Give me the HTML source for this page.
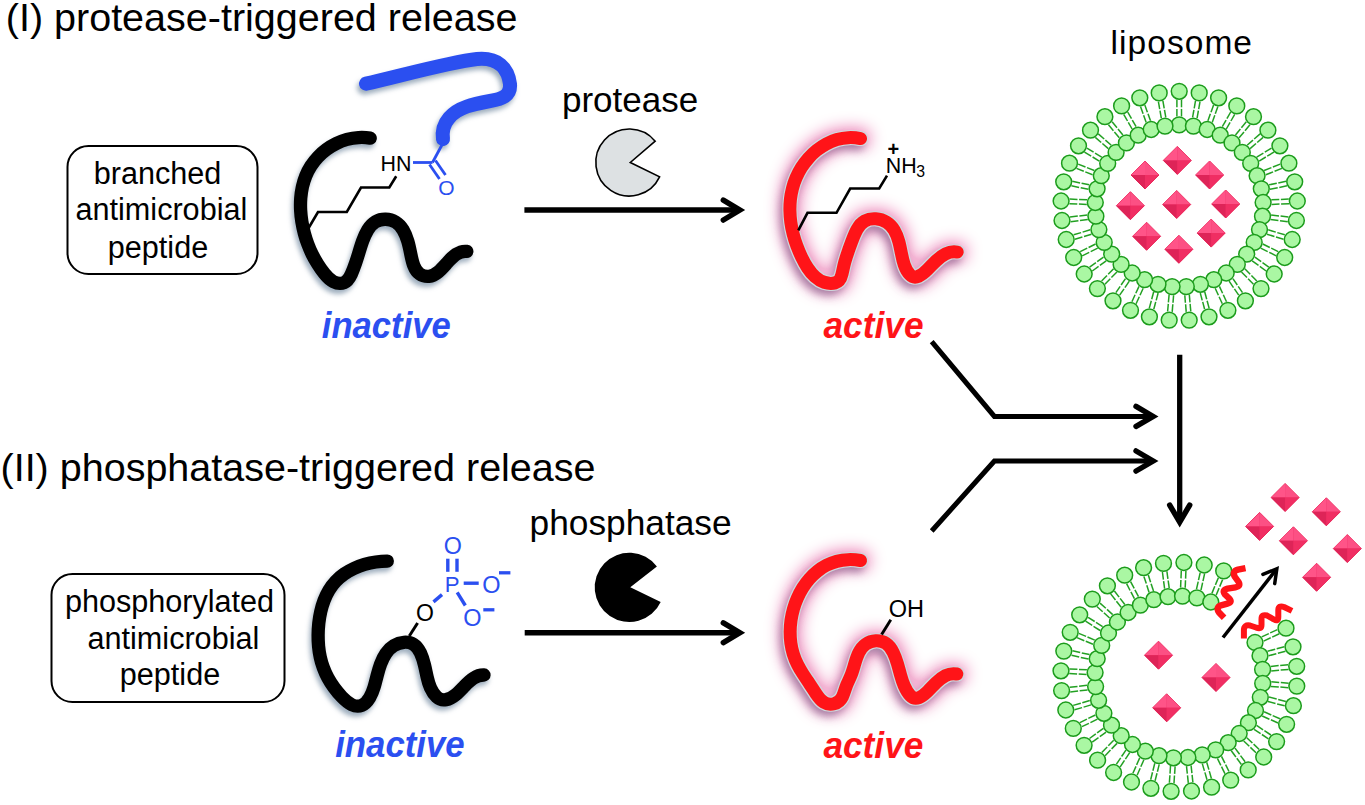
<!DOCTYPE html>
<html><head><meta charset="utf-8"><style>
html,body{margin:0;padding:0;background:#fff;overflow:hidden}
svg{display:block}
text{font-family:"Liberation Sans", sans-serif}
</style></head><body>
<svg width="1365" height="805" viewBox="0 0 1365 805">
<defs>
<filter id="sh" x="-20%" y="-20%" width="140%" height="140%" color-interpolation-filters="sRGB">
<feGaussianBlur in="SourceAlpha" stdDeviation="2.6" result="b"/>
<feOffset dx="-2.5" dy="3.5" result="o"/>
<feFlood flood-color="#8598ad" flood-opacity="0.8"/>
<feComposite in2="o" operator="in" result="s"/>
<feMerge><feMergeNode in="s"/><feMergeNode in="SourceGraphic"/></feMerge>
</filter>
<filter id="glow" x="-40%" y="-40%" width="180%" height="180%" color-interpolation-filters="sRGB">
<feMorphology in="SourceAlpha" operator="dilate" radius="3" result="d"/>
<feGaussianBlur in="d" stdDeviation="8" result="b"/>
<feComponentTransfer in="b" result="b"><feFuncA type="linear" slope="1.7"/></feComponentTransfer>
<feFlood flood-color="#f4b4d4" flood-opacity="1"/>
<feComposite in2="b" operator="in" result="g"/>
<feGaussianBlur in="SourceAlpha" stdDeviation="4" result="b2"/>
<feOffset in="b2" dx="-3" dy="4.5" result="o2"/>
<feFlood flood-color="#8e7096" flood-opacity="0.8"/>
<feComposite in2="o2" operator="in" result="s2"/>
<feMorphology in="SourceAlpha" operator="dilate" radius="0.7" result="e"/>
<feFlood flood-color="#d0d6dc" flood-opacity="1"/>
<feComposite in2="e" operator="in" result="edge"/>
<feMerge><feMergeNode in="g"/><feMergeNode in="s2"/><feMergeNode in="edge"/><feMergeNode in="SourceGraphic"/></feMerge>
</filter>
</defs>
<rect width="1365" height="805" fill="#fff"/>

<text x="5.8" y="31.2" font-size="39.5" fill="#000">(I) protease-triggered release</text>
<text x="0.5" y="481" font-size="39.5" fill="#000">(II) phosphatase-triggered release</text>
<rect x="67.5" y="146" width="190" height="128" rx="21" fill="none" stroke="#000" stroke-width="2"/>
<text font-size="30.6" text-anchor="middle" fill="#000"><tspan x="157.5" y="183.5">branched</tspan><tspan x="161.4" y="220.3">antimicrobial</tspan><tspan x="158" y="257.5">peptide</tspan></text>
<rect x="51.5" y="574" width="233" height="128" rx="21" fill="none" stroke="#000" stroke-width="2"/>
<text font-size="30.6" text-anchor="middle" fill="#000"><tspan x="169.5" y="612.2">phosphorylated</tspan><tspan x="173.4" y="649">antimicrobial</tspan><tspan x="170" y="684.8">peptide</tspan></text>
<g filter="url(#sh)">
<path d="M 370.20 138.10 C 366.25 137.48, 362.32 137.31, 358.45 137.55 C 354.57 137.78, 350.76 138.42, 347.06 139.42 C 343.36 140.42, 339.77 141.79, 336.34 143.46 C 332.90 145.14, 329.63 147.14, 326.56 149.41 C 323.48 151.67, 320.62 154.22, 318.01 156.98 C 315.39 159.75, 313.04 162.75, 310.98 165.94 C 308.92 169.12, 307.17 172.49, 305.75 176.00 C 304.32 179.50, 303.21 183.15, 302.39 186.89 C 301.56 190.63, 301.02 194.46, 300.74 198.34 C 300.45 202.22, 300.43 206.14, 300.62 210.06 C 300.82 213.98, 301.25 217.90, 301.87 221.77 C 302.50 225.64, 303.32 229.47, 304.31 233.19 C 305.30 236.92, 306.46 240.54, 307.77 244.03 C 309.07 247.52, 310.52 250.89, 312.16 254.19 C 313.80 257.49, 315.62 260.73, 317.66 263.98 C 319.70 267.22, 321.94 270.54, 324.47 273.73 C 327.01 276.93, 329.87 279.85, 333.29 281.59 C 336.72 283.34, 340.86 283.88, 344.13 282.53 C 347.39 281.18, 349.59 277.77, 351.31 274.08 C 353.03 270.39, 354.35 266.73, 355.55 263.22 C 356.75 259.71, 357.80 256.25, 358.92 252.62 C 360.03 248.99, 361.21 245.08, 362.64 241.10 C 364.07 237.13, 365.75 233.17, 367.84 229.76 C 369.93 226.35, 372.45 223.51, 375.52 221.73 C 378.58 219.95, 382.11 219.14, 385.63 219.24 C 389.15 219.34, 392.66 220.35, 395.68 222.18 C 398.69 224.02, 401.14 226.72, 403.10 230.00 C 405.06 233.27, 406.57 237.11, 407.78 241.19 C 408.99 245.27, 409.87 249.61, 410.73 253.83 C 411.58 258.04, 412.45 262.12, 413.78 265.62 C 415.11 269.11, 416.96 271.99, 419.61 273.87 C 422.27 275.74, 425.57 276.63, 428.88 276.33 C 432.19 276.02, 435.38 274.38, 438.36 271.86 C 441.34 269.35, 444.19 266.07, 447.10 262.87 C 450.00 259.68, 452.97 256.56, 456.19 254.36 C 459.41 252.17, 462.88 250.90, 466.80 251.40" fill="none" stroke="#000" stroke-width="13.3" stroke-linecap="round" stroke-linejoin="round"/>
<path d="M 366 83.7 C 400 76, 450 62, 477 59 C 498 57, 508 68, 510 84 C 511 96, 502 99, 490 101 C 474 104, 458 107, 449 118 C 443 125, 442 132, 443 139" fill="none" stroke="#2b4ff0" stroke-width="14" stroke-linecap="round"/>
</g>
<polyline points="308.3,228.5 318,212 346.8,212 361,187.5 389.3,187.5 396.2,176.2" fill="none" stroke="#000" stroke-width="2.6"/>
<text x="380.5" y="170.6" font-size="21.4" fill="#000">HN</text>
<g stroke="#2b4ff0" stroke-width="2.8" fill="none"><line x1="413" y1="162.5" x2="432.5" y2="162.5"/><line x1="432.5" y1="162.5" x2="443" y2="143"/><line x1="429.5" y1="164.5" x2="439.5" y2="179"/><line x1="435.5" y1="160.5" x2="445.5" y2="175"/></g>
<text x="438.3" y="195.3" font-size="21" fill="#2b4ff0">O</text>
<text x="321.8" y="338.4" font-size="36" font-weight="bold" font-style="italic" fill="#2b4ff0" textLength="129" lengthAdjust="spacingAndGlyphs">inactive</text>
<text x="562" y="111.8" font-size="35" fill="#000">protease</text>
<path d="M 630.3 162.5 L 659.6 176.8 A 33.5 33.5 0 1 1 655.2 141.2 Z" fill="#dde1e3" stroke="#000" stroke-width="1.6" stroke-linejoin="miter"/>
<line x1="524.4" y1="210.1" x2="737.85" y2="210.10" stroke="#000" stroke-width="5.5"/><polyline points="723.35,220.00 739.85,210.10 723.35,200.20" fill="none" stroke="#000" stroke-width="5.5" stroke-linecap="round" stroke-linejoin="miter" stroke-miterlimit="10"/>
<g filter="url(#glow)">
<path d="M 860.50 138.61 C 856.38 137.78, 852.33 137.49, 848.39 137.68 C 844.45 137.86, 840.62 138.52, 836.93 139.58 C 833.24 140.65, 829.69 142.12, 826.31 143.93 C 822.93 145.74, 819.73 147.89, 816.73 150.31 C 813.73 152.73, 810.93 155.43, 808.37 158.32 C 805.81 161.22, 803.49 164.32, 801.44 167.56 C 799.39 170.80, 797.62 174.17, 796.12 177.63 C 794.63 181.09, 793.42 184.64, 792.48 188.27 C 791.53 191.89, 790.85 195.59, 790.43 199.34 C 790.01 203.10, 789.84 206.90, 789.91 210.74 C 789.98 214.57, 790.29 218.44, 790.83 222.32 C 791.37 226.20, 792.15 230.09, 793.13 233.97 C 794.12 237.86, 795.32 241.73, 796.73 245.57 C 798.13 249.42, 799.74 253.24, 801.54 257.00 C 803.35 260.76, 805.34 264.45, 807.58 267.83 C 809.81 271.20, 812.29 274.26, 815.05 276.75 C 817.80 279.24, 820.84 281.17, 824.20 282.29 C 827.56 283.41, 831.51 283.86, 835.07 282.87 C 838.63 281.89, 840.90 278.70, 841.91 274.35 C 842.92 270.01, 843.76 265.81, 844.80 262.07 C 845.85 258.33, 846.99 254.86, 848.21 251.37 C 849.44 247.88, 850.75 244.34, 852.16 240.52 C 853.57 236.70, 855.12 232.71, 857.12 229.24 C 859.11 225.76, 861.57 222.81, 864.77 221.03 C 867.97 219.25, 871.82 218.57, 875.68 218.83 C 879.55 219.09, 883.41 220.29, 886.62 222.27 C 889.83 224.24, 892.31 227.01, 894.26 230.26 C 896.20 233.51, 897.62 237.25, 898.72 241.18 C 899.83 245.11, 900.59 249.22, 901.39 253.24 C 902.18 257.27, 903.02 261.23, 904.29 264.86 C 905.56 268.49, 907.33 271.95, 909.81 274.48 C 912.29 277.02, 915.40 277.72, 918.56 276.28 C 921.72 274.84, 924.77 272.16, 927.65 269.35 C 930.53 266.55, 933.31 263.47, 936.23 260.68 C 939.15 257.90, 942.20 255.41, 945.62 253.79 C 949.04 252.17, 952.82 251.42, 957.20 252.10" fill="none" stroke="#ff1418" stroke-width="13" stroke-linecap="round" stroke-linejoin="round"/>
</g>
<polyline points="798.3,230.3 807.5,212.8 836.5,212.8 850.2,188.5 879.2,188.5 887,175.6" fill="none" stroke="#000" stroke-width="2.6"/>
<text x="885.8" y="172.9" font-size="21.4" fill="#000">NH</text><text x="916.3" y="177.4" font-size="15.8" fill="#000">3</text>
<text x="887.6" y="156.4" font-size="20" font-weight="bold" fill="#000">+</text>
<text x="823.5" y="338.4" font-size="36" font-weight="bold" font-style="italic" fill="#ff1418" textLength="100" lengthAdjust="spacingAndGlyphs">active</text>
<g filter="url(#sh)">
<path d="M 387.30 561.10 C 383.48 561.15, 379.63 561.45, 375.82 562.00 C 372.01 562.55, 368.24 563.36, 364.56 564.43 C 360.88 565.50, 357.31 566.83, 353.88 568.43 C 350.46 570.02, 347.20 571.89, 344.16 574.02 C 341.12 576.15, 338.30 578.56, 335.76 581.24 C 333.23 583.93, 330.98 586.90, 329.05 590.12 C 327.11 593.34, 325.46 596.80, 324.09 600.41 C 322.71 604.02, 321.60 607.79, 320.73 611.64 C 319.85 615.49, 319.22 619.42, 318.79 623.35 C 318.37 627.27, 318.15 631.20, 318.12 635.05 C 318.08 638.90, 318.23 642.66, 318.58 646.35 C 318.93 650.05, 319.48 653.67, 320.26 657.22 C 321.04 660.77, 322.05 664.25, 323.31 667.67 C 324.56 671.09, 326.07 674.46, 327.85 677.76 C 329.63 681.07, 331.68 684.33, 334.03 687.53 C 336.38 690.74, 339.03 693.93, 341.98 697.01 C 344.94 700.08, 348.17 702.92, 351.53 704.60 C 354.89 706.29, 358.48 706.72, 361.77 705.36 C 365.07 704.01, 367.73 700.86, 369.70 697.59 C 371.66 694.33, 372.99 690.84, 374.09 687.19 C 375.20 683.53, 376.08 679.68, 377.10 675.73 C 378.11 671.78, 379.23 667.76, 380.63 663.95 C 382.03 660.13, 383.72 656.53, 385.87 653.40 C 388.02 650.27, 390.71 647.62, 393.84 645.70 C 396.97 643.78, 400.47 642.57, 403.89 642.29 C 407.32 642.01, 410.69 642.64, 413.55 644.41 C 416.42 646.18, 418.70 649.23, 420.46 652.96 C 422.22 656.70, 423.49 661.04, 424.51 665.18 C 425.52 669.33, 426.29 673.35, 427.18 677.17 C 428.06 680.99, 429.06 684.61, 430.52 687.94 C 431.99 691.27, 433.98 694.49, 436.63 696.88 C 439.29 699.27, 442.62 700.31, 446.07 699.64 C 449.52 698.97, 452.81 697.01, 455.82 694.52 C 458.83 692.03, 461.65 688.99, 464.51 686.06 C 467.37 683.13, 470.27 680.30, 473.45 678.24 C 476.62 676.17, 480.06 674.88, 484.00 675.00" fill="none" stroke="#000" stroke-width="13.3" stroke-linecap="round" stroke-linejoin="round"/>
</g>
<line x1="417.6" y1="623" x2="409.3" y2="636" stroke="#000" stroke-width="3"/>
<text x="415.9" y="620.5" font-size="23" fill="#000">O</text>
<g stroke="#2b4ff0" stroke-width="3.4" fill="none"><line x1="433.5" y1="601.9" x2="442" y2="594.6"/><line x1="447.8" y1="558.7" x2="447.8" y2="571.8"/><line x1="457" y1="558.7" x2="457" y2="571.8"/><line x1="463.7" y1="583.2" x2="478.7" y2="583.2"/><line x1="457.2" y1="592.3" x2="465.3" y2="605.5"/></g>
<g fill="#2b4ff0"><text x="444.7" y="592" font-size="22.2">P</text><text x="443.7" y="553.9" font-size="23.3">O</text><text x="482.2" y="593.1" font-size="23.5">O</text><text x="463.3" y="626.4" font-size="23.5">O</text></g>
<g stroke="#2b4ff0" stroke-width="3.3"><line x1="499" y1="572.8" x2="510.4" y2="572.8"/><line x1="483.3" y1="609.8" x2="494.4" y2="609.8"/></g>
<text x="335.2" y="757.4" font-size="36" font-weight="bold" font-style="italic" fill="#2b4ff0" textLength="129.5" lengthAdjust="spacingAndGlyphs">inactive</text>
<text x="529.5" y="535.4" font-size="35.3" fill="#000">phosphatase</text>
<path d="M 630.3 587.3 L 660.7 601.9 A 34.6 34.6 0 1 1 656.9 566.5 Z" fill="#000" />
<line x1="524.7" y1="632.7" x2="737.85" y2="632.70" stroke="#000" stroke-width="5.5"/><polyline points="723.35,642.60 739.85,632.70 723.35,622.80" fill="none" stroke="#000" stroke-width="5.5" stroke-linecap="round" stroke-linejoin="miter" stroke-miterlimit="10"/>
<g filter="url(#glow)">
<path d="M 860.51 560.51 C 856.21 559.75, 852.06 559.48, 848.09 559.64 C 844.12 559.79, 840.31 560.38, 836.69 561.35 C 833.07 562.31, 829.63 563.66, 826.38 565.33 C 823.14 567.01, 820.08 569.02, 817.23 571.30 C 814.37 573.59, 811.72 576.15, 809.29 578.94 C 806.85 581.74, 804.63 584.76, 802.63 587.96 C 800.64 591.16, 798.86 594.54, 797.33 598.05 C 795.79 601.56, 794.49 605.19, 793.43 608.91 C 792.37 612.62, 791.56 616.42, 791.01 620.24 C 790.46 624.06, 790.16 627.91, 790.14 631.73 C 790.11 635.56, 790.35 639.36, 790.87 643.09 C 791.39 646.82, 792.18 650.48, 793.27 654.01 C 794.36 657.54, 795.75 660.93, 797.40 664.21 C 799.04 667.49, 800.93 670.68, 802.96 673.87 C 805.00 677.06, 807.17 680.26, 809.39 683.57 C 811.61 686.88, 813.82 690.42, 816.12 693.84 C 818.42 697.25, 820.88 700.40, 823.87 702.29 C 826.85 704.18, 830.57 704.69, 834.03 703.75 C 837.50 702.82, 840.60 700.43, 842.39 696.79 C 844.18 693.15, 845.16 688.75, 846.62 685.24 C 848.09 681.73, 849.70 678.62, 851.08 675.16 C 852.46 671.70, 853.55 667.81, 854.72 663.92 C 855.89 660.03, 857.13 656.15, 858.83 652.72 C 860.53 649.29, 862.72 646.33, 865.67 644.26 C 868.63 642.20, 872.22 640.99, 875.82 640.79 C 879.43 640.60, 883.04 641.42, 886.03 643.42 C 889.02 645.41, 891.33 648.65, 893.17 652.31 C 895.01 655.97, 896.37 659.97, 897.50 663.79 C 898.63 667.61, 899.55 671.36, 900.57 675.04 C 901.59 678.73, 902.72 682.34, 904.27 685.88 C 905.83 689.42, 907.87 693.15, 910.37 695.66 C 912.86 698.16, 915.82 698.87, 918.86 697.69 C 921.90 696.51, 924.85 694.08, 927.68 691.35 C 930.51 688.63, 933.29 685.52, 936.20 682.68 C 939.12 679.84, 942.16 677.26, 945.53 675.60 C 948.90 673.93, 952.59 673.19, 956.80 674.00" fill="none" stroke="#ff1418" stroke-width="13" stroke-linecap="round" stroke-linejoin="round"/>
</g>
<line x1="881.6" y1="634.5" x2="890.8" y2="619.8" stroke="#000" stroke-width="2.9"/>
<text x="888.8" y="616.8" font-size="23.5" fill="#000">OH</text>
<text x="823.4" y="757.6" font-size="36" font-weight="bold" font-style="italic" fill="#ff1418" textLength="100" lengthAdjust="spacingAndGlyphs">active</text>
<polyline points="931.7,341.7 994.4,416.4 1152,416.4" fill="none" stroke="#000" stroke-width="5" stroke-linejoin="miter"/>
<polyline points="1136.08,426.40 1153.08,416.40 1136.08,406.40" fill="none" stroke="#000" stroke-width="5.5" stroke-linecap="round" stroke-linejoin="miter" stroke-miterlimit="10"/>
<polyline points="931.7,531 994.4,461 1152,461" fill="none" stroke="#000" stroke-width="5" stroke-linejoin="miter"/>
<polyline points="1136.08,471.00 1153.08,461.00 1136.08,451.00" fill="none" stroke="#000" stroke-width="5.5" stroke-linecap="round" stroke-linejoin="miter" stroke-miterlimit="10"/>
<line x1="1179.7" y1="354.8" x2="1179.7" y2="520" stroke="#000" stroke-width="5.3"/>
<polyline points="1169.70,505.08 1179.70,522.08 1189.70,505.08" fill="none" stroke="#000" stroke-width="5.5" stroke-linecap="round" stroke-linejoin="miter" stroke-miterlimit="10"/>
<text x="1110.5" y="54.2" font-size="33.5" fill="#000" textLength="141.5" lengthAdjust="spacing">liposome</text>
<g stroke="#22a022" stroke-width="1.5" fill="none"><line x1="1176.9" y1="116.5" x2="1176.9" y2="108.9"/><line x1="1176.9" y1="107.3" x2="1176.9" y2="99.7"/><line x1="1181.5" y1="116.5" x2="1181.5" y2="108.9"/><line x1="1181.5" y1="107.3" x2="1181.5" y2="99.7"/><line x1="1192.6" y1="117.4" x2="1193.9" y2="109.9"/><line x1="1194.2" y1="108.3" x2="1195.5" y2="100.8"/><line x1="1197.1" y1="118.2" x2="1198.4" y2="110.7"/><line x1="1198.7" y1="109.1" x2="1200.0" y2="101.6"/><line x1="1207.9" y1="120.8" x2="1210.4" y2="113.7"/><line x1="1211.0" y1="112.2" x2="1213.6" y2="105.0"/><line x1="1212.2" y1="122.4" x2="1214.8" y2="115.2"/><line x1="1215.3" y1="113.7" x2="1217.9" y2="106.5"/><line x1="1222.3" y1="126.7" x2="1226.1" y2="120.1"/><line x1="1226.9" y1="118.7" x2="1230.7" y2="112.0"/><line x1="1226.3" y1="129.0" x2="1230.1" y2="122.4"/><line x1="1230.9" y1="121.0" x2="1234.7" y2="114.3"/><line x1="1235.5" y1="134.9" x2="1240.4" y2="129.0"/><line x1="1241.4" y1="127.7" x2="1246.3" y2="121.8"/><line x1="1239.1" y1="137.8" x2="1244.0" y2="131.9"/><line x1="1245.0" y1="130.7" x2="1249.9" y2="124.7"/><line x1="1247.1" y1="145.2" x2="1253.0" y2="140.1"/><line x1="1254.2" y1="139.0" x2="1260.1" y2="133.9"/><line x1="1250.1" y1="148.6" x2="1256.0" y2="143.5"/><line x1="1257.2" y1="142.5" x2="1263.1" y2="137.4"/><line x1="1256.7" y1="157.1" x2="1263.4" y2="153.1"/><line x1="1264.8" y1="152.2" x2="1271.5" y2="148.2"/><line x1="1259.1" y1="161.1" x2="1265.8" y2="157.0"/><line x1="1267.2" y1="156.2" x2="1273.9" y2="152.1"/><line x1="1264.1" y1="170.5" x2="1271.4" y2="167.6"/><line x1="1272.9" y1="167.0" x2="1280.2" y2="164.1"/><line x1="1265.8" y1="174.8" x2="1273.1" y2="171.9"/><line x1="1274.6" y1="171.3" x2="1281.9" y2="168.4"/><line x1="1269.1" y1="184.8" x2="1276.8" y2="183.2"/><line x1="1278.3" y1="182.9" x2="1286.1" y2="181.2"/><line x1="1270.0" y1="189.3" x2="1277.7" y2="187.7"/><line x1="1279.3" y1="187.4" x2="1287.0" y2="185.7"/><line x1="1271.4" y1="199.8" x2="1279.3" y2="199.5"/><line x1="1280.9" y1="199.4" x2="1288.8" y2="199.1"/><line x1="1271.6" y1="204.4" x2="1279.5" y2="204.1"/><line x1="1281.1" y1="204.0" x2="1289.0" y2="203.7"/><line x1="1271.1" y1="215.0" x2="1279.0" y2="215.9"/><line x1="1280.6" y1="216.1" x2="1288.4" y2="217.1"/><line x1="1270.6" y1="219.5" x2="1278.4" y2="220.5"/><line x1="1280.0" y1="220.7" x2="1287.8" y2="221.7"/><line x1="1268.2" y1="229.8" x2="1275.8" y2="232.1"/><line x1="1277.3" y1="232.6" x2="1284.8" y2="234.8"/><line x1="1266.9" y1="234.2" x2="1274.4" y2="236.5"/><line x1="1276.0" y1="237.0" x2="1283.5" y2="239.2"/><line x1="1262.8" y1="244.0" x2="1269.8" y2="247.5"/><line x1="1271.2" y1="248.2" x2="1278.2" y2="251.7"/><line x1="1260.7" y1="248.2" x2="1267.7" y2="251.6"/><line x1="1269.2" y1="252.3" x2="1276.2" y2="255.8"/><line x1="1254.9" y1="257.1" x2="1261.2" y2="261.7"/><line x1="1262.5" y1="262.7" x2="1268.8" y2="267.2"/><line x1="1252.2" y1="260.9" x2="1258.5" y2="265.4"/><line x1="1259.8" y1="266.4" x2="1266.1" y2="271.0"/><line x1="1244.8" y1="268.8" x2="1250.2" y2="274.3"/><line x1="1251.4" y1="275.5" x2="1256.8" y2="281.0"/><line x1="1241.5" y1="272.0" x2="1247.0" y2="277.5"/><line x1="1248.1" y1="278.7" x2="1253.5" y2="284.2"/><line x1="1232.9" y1="278.6" x2="1237.3" y2="285.0"/><line x1="1238.2" y1="286.3" x2="1242.5" y2="292.6"/><line x1="1229.1" y1="281.2" x2="1233.5" y2="287.6"/><line x1="1234.4" y1="288.9" x2="1238.7" y2="295.2"/><line x1="1219.4" y1="286.4" x2="1222.6" y2="293.3"/><line x1="1223.3" y1="294.8" x2="1226.5" y2="301.7"/><line x1="1215.2" y1="288.3" x2="1218.4" y2="295.3"/><line x1="1219.1" y1="296.7" x2="1222.3" y2="303.7"/><line x1="1204.7" y1="291.8" x2="1206.7" y2="299.2"/><line x1="1207.1" y1="300.7" x2="1209.1" y2="308.1"/><line x1="1200.3" y1="293.0" x2="1202.2" y2="300.4"/><line x1="1202.7" y1="301.9" x2="1204.6" y2="309.3"/><line x1="1189.3" y1="294.8" x2="1190.0" y2="302.4"/><line x1="1190.1" y1="303.9" x2="1190.8" y2="311.5"/><line x1="1184.8" y1="295.2" x2="1185.4" y2="302.7"/><line x1="1185.6" y1="304.3" x2="1186.2" y2="311.9"/><line x1="1173.6" y1="295.2" x2="1173.0" y2="302.7"/><line x1="1172.8" y1="304.3" x2="1172.2" y2="311.9"/><line x1="1169.1" y1="294.8" x2="1168.4" y2="302.4"/><line x1="1168.3" y1="303.9" x2="1167.6" y2="311.5"/><line x1="1158.1" y1="293.0" x2="1156.2" y2="300.4"/><line x1="1155.7" y1="301.9" x2="1153.8" y2="309.3"/><line x1="1153.7" y1="291.8" x2="1151.7" y2="299.2"/><line x1="1151.3" y1="300.7" x2="1149.3" y2="308.1"/><line x1="1143.2" y1="288.3" x2="1140.0" y2="295.3"/><line x1="1139.3" y1="296.7" x2="1136.1" y2="303.7"/><line x1="1139.0" y1="286.4" x2="1135.8" y2="293.3"/><line x1="1135.1" y1="294.8" x2="1131.9" y2="301.7"/><line x1="1129.3" y1="281.2" x2="1124.9" y2="287.6"/><line x1="1124.0" y1="288.9" x2="1119.7" y2="295.2"/><line x1="1125.5" y1="278.6" x2="1121.1" y2="285.0"/><line x1="1120.2" y1="286.3" x2="1115.9" y2="292.6"/><line x1="1116.9" y1="272.0" x2="1111.4" y2="277.5"/><line x1="1110.3" y1="278.7" x2="1104.9" y2="284.2"/><line x1="1113.6" y1="268.8" x2="1108.2" y2="274.3"/><line x1="1107.0" y1="275.5" x2="1101.6" y2="281.0"/><line x1="1106.2" y1="260.9" x2="1099.9" y2="265.4"/><line x1="1098.6" y1="266.4" x2="1092.3" y2="271.0"/><line x1="1103.5" y1="257.1" x2="1097.2" y2="261.7"/><line x1="1095.9" y1="262.7" x2="1089.6" y2="267.2"/><line x1="1097.7" y1="248.2" x2="1090.7" y2="251.6"/><line x1="1089.2" y1="252.3" x2="1082.2" y2="255.8"/><line x1="1095.6" y1="244.0" x2="1088.6" y2="247.5"/><line x1="1087.2" y1="248.2" x2="1080.2" y2="251.7"/><line x1="1091.5" y1="234.2" x2="1084.0" y2="236.5"/><line x1="1082.4" y1="237.0" x2="1074.9" y2="239.2"/><line x1="1090.2" y1="229.8" x2="1082.6" y2="232.1"/><line x1="1081.1" y1="232.6" x2="1073.6" y2="234.8"/><line x1="1087.8" y1="219.5" x2="1080.0" y2="220.5"/><line x1="1078.4" y1="220.7" x2="1070.6" y2="221.7"/><line x1="1087.3" y1="215.0" x2="1079.4" y2="215.9"/><line x1="1077.8" y1="216.1" x2="1070.0" y2="217.1"/><line x1="1086.8" y1="204.4" x2="1078.9" y2="204.1"/><line x1="1077.3" y1="204.0" x2="1069.4" y2="203.7"/><line x1="1087.0" y1="199.8" x2="1079.1" y2="199.5"/><line x1="1077.5" y1="199.4" x2="1069.6" y2="199.1"/><line x1="1088.4" y1="189.3" x2="1080.7" y2="187.7"/><line x1="1079.1" y1="187.4" x2="1071.4" y2="185.7"/><line x1="1089.3" y1="184.8" x2="1081.6" y2="183.2"/><line x1="1080.1" y1="182.9" x2="1072.3" y2="181.2"/><line x1="1092.6" y1="174.8" x2="1085.3" y2="171.9"/><line x1="1083.8" y1="171.3" x2="1076.5" y2="168.4"/><line x1="1094.3" y1="170.5" x2="1087.0" y2="167.6"/><line x1="1085.5" y1="167.0" x2="1078.2" y2="164.1"/><line x1="1099.3" y1="161.1" x2="1092.6" y2="157.0"/><line x1="1091.2" y1="156.2" x2="1084.5" y2="152.1"/><line x1="1101.7" y1="157.1" x2="1095.0" y2="153.1"/><line x1="1093.6" y1="152.2" x2="1086.9" y2="148.2"/><line x1="1108.3" y1="148.6" x2="1102.4" y2="143.5"/><line x1="1101.2" y1="142.5" x2="1095.3" y2="137.4"/><line x1="1111.3" y1="145.2" x2="1105.4" y2="140.1"/><line x1="1104.2" y1="139.0" x2="1098.3" y2="133.9"/><line x1="1119.3" y1="137.8" x2="1114.4" y2="131.9"/><line x1="1113.4" y1="130.7" x2="1108.5" y2="124.7"/><line x1="1122.9" y1="134.9" x2="1118.0" y2="129.0"/><line x1="1117.0" y1="127.7" x2="1112.1" y2="121.8"/><line x1="1132.1" y1="129.0" x2="1128.3" y2="122.4"/><line x1="1127.5" y1="121.0" x2="1123.7" y2="114.3"/><line x1="1136.1" y1="126.7" x2="1132.3" y2="120.1"/><line x1="1131.5" y1="118.7" x2="1127.7" y2="112.0"/><line x1="1146.2" y1="122.4" x2="1143.6" y2="115.2"/><line x1="1143.1" y1="113.7" x2="1140.5" y2="106.5"/><line x1="1150.5" y1="120.8" x2="1148.0" y2="113.7"/><line x1="1147.4" y1="112.2" x2="1144.8" y2="105.0"/><line x1="1161.3" y1="118.2" x2="1160.0" y2="110.7"/><line x1="1159.7" y1="109.1" x2="1158.4" y2="101.6"/><line x1="1165.8" y1="117.4" x2="1164.5" y2="109.9"/><line x1="1164.2" y1="108.3" x2="1162.9" y2="100.8"/></g>
<g stroke="#1c9c1c" stroke-width="1.5" fill="#aaf7a3"><circle cx="1179.2" cy="91.3" r="7.9"/><circle cx="1199.2" cy="92.9" r="7.9"/><circle cx="1218.6" cy="97.8" r="7.9"/><circle cx="1236.8" cy="105.9" r="7.9"/><circle cx="1253.5" cy="116.7" r="7.9"/><circle cx="1267.9" cy="130.2" r="7.9"/><circle cx="1279.9" cy="145.8" r="7.9"/><circle cx="1288.9" cy="163.2" r="7.9"/><circle cx="1294.7" cy="181.8" r="7.9"/><circle cx="1297.3" cy="201.0" r="7.9"/><circle cx="1296.4" cy="220.5" r="7.9"/><circle cx="1292.2" cy="239.5" r="7.9"/><circle cx="1284.7" cy="257.5" r="7.9"/><circle cx="1274.2" cy="274.0" r="7.9"/><circle cx="1261.0" cy="288.6" r="7.9"/><circle cx="1245.4" cy="300.8" r="7.9"/><circle cx="1227.9" cy="310.3" r="7.9"/><circle cx="1209.0" cy="316.8" r="7.9"/><circle cx="1189.2" cy="320.1" r="7.9"/><circle cx="1169.2" cy="320.1" r="7.9"/><circle cx="1149.4" cy="316.8" r="7.9"/><circle cx="1130.5" cy="310.3" r="7.9"/><circle cx="1113.0" cy="300.8" r="7.9"/><circle cx="1097.4" cy="288.6" r="7.9"/><circle cx="1084.2" cy="274.0" r="7.9"/><circle cx="1073.7" cy="257.5" r="7.9"/><circle cx="1066.2" cy="239.5" r="7.9"/><circle cx="1062.0" cy="220.5" r="7.9"/><circle cx="1061.1" cy="201.0" r="7.9"/><circle cx="1063.7" cy="181.8" r="7.9"/><circle cx="1069.5" cy="163.2" r="7.9"/><circle cx="1078.5" cy="145.8" r="7.9"/><circle cx="1090.5" cy="130.2" r="7.9"/><circle cx="1104.9" cy="116.7" r="7.9"/><circle cx="1121.6" cy="105.9" r="7.9"/><circle cx="1139.8" cy="97.8" r="7.9"/><circle cx="1159.2" cy="92.9" r="7.9"/><circle cx="1179.2" cy="124.9" r="7.9"/><circle cx="1193.4" cy="126.1" r="7.9"/><circle cx="1207.2" cy="129.5" r="7.9"/><circle cx="1220.2" cy="135.2" r="7.9"/><circle cx="1232.0" cy="142.9" r="7.9"/><circle cx="1242.3" cy="152.4" r="7.9"/><circle cx="1250.7" cy="163.4" r="7.9"/><circle cx="1257.1" cy="175.7" r="7.9"/><circle cx="1261.3" cy="188.8" r="7.9"/><circle cx="1263.1" cy="202.5" r="7.9"/><circle cx="1262.5" cy="216.2" r="7.9"/><circle cx="1259.5" cy="229.6" r="7.9"/><circle cx="1254.2" cy="242.4" r="7.9"/><circle cx="1246.7" cy="254.1" r="7.9"/><circle cx="1237.3" cy="264.4" r="7.9"/><circle cx="1226.2" cy="273.0" r="7.9"/><circle cx="1213.8" cy="279.7" r="7.9"/><circle cx="1200.4" cy="284.3" r="7.9"/><circle cx="1186.3" cy="286.6" r="7.9"/><circle cx="1172.1" cy="286.6" r="7.9"/><circle cx="1158.0" cy="284.3" r="7.9"/><circle cx="1144.6" cy="279.7" r="7.9"/><circle cx="1132.2" cy="273.0" r="7.9"/><circle cx="1121.1" cy="264.4" r="7.9"/><circle cx="1111.7" cy="254.1" r="7.9"/><circle cx="1104.2" cy="242.4" r="7.9"/><circle cx="1098.9" cy="229.6" r="7.9"/><circle cx="1095.9" cy="216.2" r="7.9"/><circle cx="1095.3" cy="202.5" r="7.9"/><circle cx="1097.1" cy="188.8" r="7.9"/><circle cx="1101.3" cy="175.7" r="7.9"/><circle cx="1107.7" cy="163.4" r="7.9"/><circle cx="1116.1" cy="152.4" r="7.9"/><circle cx="1126.4" cy="142.9" r="7.9"/><circle cx="1138.2" cy="135.2" r="7.9"/><circle cx="1151.2" cy="129.5" r="7.9"/><circle cx="1165.0" cy="126.1" r="7.9"/></g>
<polygon points="1177.3,146.4 1163.3,160.4 1177.3,174.4 1191.3,160.4" fill="#ee2a60" stroke="#e3184c" stroke-width="0.9"/><polygon points="1177.3,146.4 1163.3,160.4 1177.3,160.4" fill="#ff5488"/><polygon points="1177.3,146.4 1177.3,160.4 1191.3,160.4" fill="#fc5084"/><polygon points="1163.3,160.4 1177.3,174.4 1177.3,160.4" fill="#de2458"/><polygon points="1177.3,160.4 1177.3,174.4 1191.3,160.4" fill="#f02e63"/>
<polygon points="1145,161 1131,175 1145,189 1159,175" fill="#ee2a60" stroke="#e3184c" stroke-width="0.9"/><polygon points="1145.0,161.0 1131.0,175.0 1145.0,175.0" fill="#ff5488"/><polygon points="1145.0,161.0 1145.0,175.0 1159.0,175.0" fill="#fc5084"/><polygon points="1131.0,175.0 1145.0,189.0 1145.0,175.0" fill="#de2458"/><polygon points="1145.0,175.0 1145.0,189.0 1159.0,175.0" fill="#f02e63"/>
<polygon points="1209.6,161 1195.6,175 1209.6,189 1223.6,175" fill="#ee2a60" stroke="#e3184c" stroke-width="0.9"/><polygon points="1209.6,161.0 1195.6,175.0 1209.6,175.0" fill="#ff5488"/><polygon points="1209.6,161.0 1209.6,175.0 1223.6,175.0" fill="#fc5084"/><polygon points="1195.6,175.0 1209.6,189.0 1209.6,175.0" fill="#de2458"/><polygon points="1209.6,175.0 1209.6,189.0 1223.6,175.0" fill="#f02e63"/>
<polygon points="1130.4,191.7 1116.4,205.7 1130.4,219.7 1144.4,205.7" fill="#ee2a60" stroke="#e3184c" stroke-width="0.9"/><polygon points="1130.4,191.7 1116.4,205.7 1130.4,205.7" fill="#ff5488"/><polygon points="1130.4,191.7 1130.4,205.7 1144.4,205.7" fill="#fc5084"/><polygon points="1116.4,205.7 1130.4,219.7 1130.4,205.7" fill="#de2458"/><polygon points="1130.4,205.7 1130.4,219.7 1144.4,205.7" fill="#f02e63"/>
<polygon points="1176.7,190.5 1162.7,204.5 1176.7,218.5 1190.7,204.5" fill="#ee2a60" stroke="#e3184c" stroke-width="0.9"/><polygon points="1176.7,190.5 1162.7,204.5 1176.7,204.5" fill="#ff5488"/><polygon points="1176.7,190.5 1176.7,204.5 1190.7,204.5" fill="#fc5084"/><polygon points="1162.7,204.5 1176.7,218.5 1176.7,204.5" fill="#de2458"/><polygon points="1176.7,204.5 1176.7,218.5 1190.7,204.5" fill="#f02e63"/>
<polygon points="1225.7,190 1211.7,204 1225.7,218 1239.7,204" fill="#ee2a60" stroke="#e3184c" stroke-width="0.9"/><polygon points="1225.7,190.0 1211.7,204.0 1225.7,204.0" fill="#ff5488"/><polygon points="1225.7,190.0 1225.7,204.0 1239.7,204.0" fill="#fc5084"/><polygon points="1211.7,204.0 1225.7,218.0 1225.7,204.0" fill="#de2458"/><polygon points="1225.7,204.0 1225.7,218.0 1239.7,204.0" fill="#f02e63"/>
<polygon points="1146.6,222.3 1132.6,236.3 1146.6,250.3 1160.6,236.3" fill="#ee2a60" stroke="#e3184c" stroke-width="0.9"/><polygon points="1146.6,222.3 1132.6,236.3 1146.6,236.3" fill="#ff5488"/><polygon points="1146.6,222.3 1146.6,236.3 1160.6,236.3" fill="#fc5084"/><polygon points="1132.6,236.3 1146.6,250.3 1146.6,236.3" fill="#de2458"/><polygon points="1146.6,236.3 1146.6,250.3 1160.6,236.3" fill="#f02e63"/>
<polygon points="1211.2,219.1 1197.2,233.1 1211.2,247.1 1225.2,233.1" fill="#ee2a60" stroke="#e3184c" stroke-width="0.9"/><polygon points="1211.2,219.1 1197.2,233.1 1211.2,233.1" fill="#ff5488"/><polygon points="1211.2,219.1 1211.2,233.1 1225.2,233.1" fill="#fc5084"/><polygon points="1197.2,233.1 1211.2,247.1 1211.2,233.1" fill="#de2458"/><polygon points="1211.2,233.1 1211.2,247.1 1225.2,233.1" fill="#f02e63"/>
<polygon points="1178.9,235.3 1164.9,249.3 1178.9,263.3 1192.9,249.3" fill="#ee2a60" stroke="#e3184c" stroke-width="0.9"/><polygon points="1178.9,235.3 1164.9,249.3 1178.9,249.3" fill="#ff5488"/><polygon points="1178.9,235.3 1178.9,249.3 1192.9,249.3" fill="#fc5084"/><polygon points="1164.9,249.3 1178.9,263.3 1178.9,249.3" fill="#de2458"/><polygon points="1178.9,249.3 1178.9,263.3 1192.9,249.3" fill="#f02e63"/>
<g stroke="#22a022" stroke-width="1.5" fill="none"><line x1="1261.7" y1="636.9" x2="1268.8" y2="633.6"/><line x1="1270.2" y1="632.9" x2="1277.4" y2="629.6"/><line x1="1263.6" y1="641.1" x2="1270.7" y2="637.8"/><line x1="1272.2" y1="637.1" x2="1279.3" y2="633.8"/><line x1="1267.5" y1="651.3" x2="1275.2" y2="649.2"/><line x1="1276.7" y1="648.8" x2="1284.3" y2="646.8"/><line x1="1268.7" y1="655.7" x2="1276.3" y2="653.7"/><line x1="1277.9" y1="653.2" x2="1285.5" y2="651.2"/><line x1="1270.8" y1="666.4" x2="1278.7" y2="665.6"/><line x1="1280.2" y1="665.5" x2="1288.1" y2="664.8"/><line x1="1271.2" y1="671.0" x2="1279.1" y2="670.2"/><line x1="1280.7" y1="670.1" x2="1288.5" y2="669.4"/><line x1="1271.3" y1="681.8" x2="1279.2" y2="682.4"/><line x1="1280.8" y1="682.5" x2="1288.6" y2="683.2"/><line x1="1270.9" y1="686.4" x2="1278.8" y2="687.0"/><line x1="1280.4" y1="687.1" x2="1288.3" y2="687.7"/><line x1="1269.0" y1="697.1" x2="1276.7" y2="699.0"/><line x1="1278.2" y1="699.4" x2="1285.9" y2="701.4"/><line x1="1267.9" y1="701.5" x2="1275.5" y2="703.5"/><line x1="1277.1" y1="703.9" x2="1284.7" y2="705.8"/><line x1="1264.1" y1="711.8" x2="1271.3" y2="715.0"/><line x1="1272.7" y1="715.6" x2="1279.9" y2="718.8"/><line x1="1262.2" y1="716.0" x2="1269.4" y2="719.2"/><line x1="1270.9" y1="719.8" x2="1278.0" y2="723.0"/><line x1="1256.6" y1="725.4" x2="1263.1" y2="729.8"/><line x1="1264.4" y1="730.7" x2="1270.9" y2="735.0"/><line x1="1254.1" y1="729.3" x2="1260.6" y2="733.6"/><line x1="1261.9" y1="734.5" x2="1268.4" y2="738.8"/><line x1="1246.8" y1="737.7" x2="1252.4" y2="743.0"/><line x1="1253.6" y1="744.1" x2="1259.2" y2="749.5"/><line x1="1243.7" y1="741.0" x2="1249.3" y2="746.3"/><line x1="1250.4" y1="747.4" x2="1256.0" y2="752.8"/><line x1="1235.0" y1="748.1" x2="1239.6" y2="754.3"/><line x1="1240.5" y1="755.6" x2="1245.1" y2="761.8"/><line x1="1231.3" y1="750.8" x2="1235.9" y2="757.0"/><line x1="1236.8" y1="758.3" x2="1241.4" y2="764.5"/><line x1="1221.5" y1="756.4" x2="1224.9" y2="763.2"/><line x1="1225.6" y1="764.7" x2="1229.0" y2="771.5"/><line x1="1217.4" y1="758.4" x2="1220.8" y2="765.3"/><line x1="1221.5" y1="766.7" x2="1224.9" y2="773.6"/><line x1="1206.7" y1="762.3" x2="1208.9" y2="769.6"/><line x1="1209.3" y1="771.1" x2="1211.4" y2="778.5"/><line x1="1202.3" y1="763.6" x2="1204.4" y2="770.9"/><line x1="1204.9" y1="772.4" x2="1207.0" y2="779.7"/><line x1="1191.1" y1="765.6" x2="1191.9" y2="773.2"/><line x1="1192.1" y1="774.8" x2="1192.9" y2="782.4"/><line x1="1186.5" y1="766.1" x2="1187.3" y2="773.7"/><line x1="1187.5" y1="775.3" x2="1188.3" y2="782.9"/><line x1="1175.1" y1="766.4" x2="1174.6" y2="773.9"/><line x1="1174.5" y1="775.5" x2="1174.0" y2="783.1"/><line x1="1170.5" y1="766.0" x2="1170.0" y2="773.6"/><line x1="1169.9" y1="775.2" x2="1169.4" y2="782.8"/><line x1="1159.2" y1="764.4" x2="1157.4" y2="771.8"/><line x1="1157.0" y1="773.3" x2="1155.1" y2="780.7"/><line x1="1154.8" y1="763.3" x2="1152.9" y2="770.7"/><line x1="1152.5" y1="772.2" x2="1150.7" y2="779.6"/><line x1="1143.9" y1="759.8" x2="1140.8" y2="766.8"/><line x1="1140.2" y1="768.2" x2="1137.1" y2="775.2"/><line x1="1139.7" y1="757.9" x2="1136.6" y2="764.9"/><line x1="1136.0" y1="766.4" x2="1132.9" y2="773.3"/><line x1="1129.7" y1="752.7" x2="1125.4" y2="759.1"/><line x1="1124.5" y1="760.4" x2="1120.2" y2="766.8"/><line x1="1125.9" y1="750.1" x2="1121.6" y2="756.5"/><line x1="1120.7" y1="757.8" x2="1116.4" y2="764.2"/><line x1="1117.0" y1="743.4" x2="1111.6" y2="748.9"/><line x1="1110.5" y1="750.1" x2="1105.1" y2="755.7"/><line x1="1113.7" y1="740.2" x2="1108.3" y2="745.7"/><line x1="1107.2" y1="746.9" x2="1101.8" y2="752.5"/><line x1="1106.1" y1="732.1" x2="1099.8" y2="736.6"/><line x1="1098.5" y1="737.6" x2="1092.2" y2="742.2"/><line x1="1103.4" y1="728.3" x2="1097.1" y2="732.9"/><line x1="1095.8" y1="733.9" x2="1089.5" y2="738.5"/><line x1="1097.4" y1="719.1" x2="1090.4" y2="722.6"/><line x1="1088.9" y1="723.3" x2="1081.9" y2="726.7"/><line x1="1095.4" y1="715.0" x2="1088.3" y2="718.4"/><line x1="1086.9" y1="719.1" x2="1079.9" y2="722.6"/><line x1="1091.1" y1="704.9" x2="1083.6" y2="707.1"/><line x1="1082.1" y1="707.6" x2="1074.5" y2="709.8"/><line x1="1089.8" y1="700.5" x2="1082.3" y2="702.7"/><line x1="1080.8" y1="703.2" x2="1073.2" y2="705.4"/><line x1="1087.5" y1="689.9" x2="1079.7" y2="690.8"/><line x1="1078.1" y1="691.0" x2="1070.2" y2="691.9"/><line x1="1087.0" y1="685.3" x2="1079.1" y2="686.2"/><line x1="1077.5" y1="686.4" x2="1069.7" y2="687.3"/><line x1="1086.6" y1="674.4" x2="1078.7" y2="674.0"/><line x1="1077.1" y1="673.9" x2="1069.2" y2="673.5"/><line x1="1086.9" y1="669.8" x2="1079.0" y2="669.4"/><line x1="1077.4" y1="669.3" x2="1069.5" y2="668.9"/><line x1="1088.5" y1="659.1" x2="1080.8" y2="657.4"/><line x1="1079.2" y1="657.0" x2="1071.5" y2="655.2"/><line x1="1089.5" y1="654.6" x2="1081.8" y2="652.9"/><line x1="1080.2" y1="652.5" x2="1072.5" y2="650.8"/><line x1="1093.0" y1="644.3" x2="1085.8" y2="641.3"/><line x1="1084.3" y1="640.7" x2="1077.0" y2="637.6"/><line x1="1094.8" y1="640.1" x2="1087.5" y2="637.0"/><line x1="1086.1" y1="636.4" x2="1078.8" y2="633.4"/><line x1="1100.1" y1="630.5" x2="1093.5" y2="626.3"/><line x1="1092.2" y1="625.4" x2="1085.6" y2="621.2"/><line x1="1102.6" y1="626.6" x2="1096.0" y2="622.4"/><line x1="1094.7" y1="621.5" x2="1088.1" y2="617.3"/><line x1="1109.6" y1="618.0" x2="1103.9" y2="612.8"/><line x1="1102.7" y1="611.7" x2="1096.9" y2="606.5"/><line x1="1112.7" y1="614.6" x2="1107.0" y2="609.4"/><line x1="1105.8" y1="608.3" x2="1100.0" y2="603.1"/><line x1="1121.2" y1="607.3" x2="1116.4" y2="601.2"/><line x1="1115.5" y1="600.0" x2="1110.7" y2="593.9"/><line x1="1124.8" y1="604.5" x2="1120.1" y2="598.4"/><line x1="1119.1" y1="597.1" x2="1114.4" y2="591.0"/><line x1="1134.4" y1="598.7" x2="1130.9" y2="591.9"/><line x1="1130.1" y1="590.5" x2="1126.6" y2="583.7"/><line x1="1138.5" y1="596.6" x2="1134.9" y2="589.8"/><line x1="1134.2" y1="588.4" x2="1130.6" y2="581.6"/><line x1="1149.1" y1="592.4" x2="1146.8" y2="585.2"/><line x1="1146.3" y1="583.6" x2="1143.9" y2="576.4"/><line x1="1153.5" y1="591.0" x2="1151.1" y2="583.8"/><line x1="1150.6" y1="582.2" x2="1148.3" y2="575.0"/><line x1="1164.6" y1="588.7" x2="1163.6" y2="581.1"/><line x1="1163.4" y1="579.6" x2="1162.4" y2="572.0"/><line x1="1169.2" y1="588.1" x2="1168.2" y2="580.5"/><line x1="1167.9" y1="578.9" x2="1166.9" y2="571.4"/><line x1="1180.6" y1="587.6" x2="1180.9" y2="580.0"/><line x1="1181.0" y1="578.4" x2="1181.3" y2="570.8"/><line x1="1185.2" y1="587.8" x2="1185.5" y2="580.2"/><line x1="1185.6" y1="578.6" x2="1185.9" y2="571.0"/><line x1="1196.5" y1="589.2" x2="1198.2" y2="581.7"/><line x1="1198.5" y1="580.2" x2="1200.2" y2="572.7"/><line x1="1201.0" y1="590.2" x2="1202.6" y2="582.7"/><line x1="1203.0" y1="581.2" x2="1204.6" y2="573.7"/><line x1="1211.9" y1="593.4" x2="1214.8" y2="586.3"/><line x1="1215.4" y1="584.9" x2="1218.4" y2="577.8"/><line x1="1216.1" y1="595.2" x2="1219.1" y2="588.1"/><line x1="1219.7" y1="586.6" x2="1222.6" y2="579.6"/></g>
<g stroke="#1c9c1c" stroke-width="1.5" fill="#aaf7a3"><circle cx="1286.0" cy="628.2" r="7.9"/><circle cx="1293.0" cy="646.8" r="7.9"/><circle cx="1296.7" cy="666.3" r="7.9"/><circle cx="1296.8" cy="686.1" r="7.9"/><circle cx="1293.4" cy="705.7" r="7.9"/><circle cx="1286.6" cy="724.3" r="7.9"/><circle cx="1276.6" cy="741.6" r="7.9"/><circle cx="1263.7" cy="757.0" r="7.9"/><circle cx="1248.2" cy="769.9" r="7.9"/><circle cx="1230.7" cy="780.1" r="7.9"/><circle cx="1211.6" cy="787.2" r="7.9"/><circle cx="1191.5" cy="791.0" r="7.9"/><circle cx="1171.1" cy="791.3" r="7.9"/><circle cx="1150.9" cy="788.3" r="7.9"/><circle cx="1131.5" cy="782.0" r="7.9"/><circle cx="1113.6" cy="772.5" r="7.9"/><circle cx="1097.6" cy="760.1" r="7.9"/><circle cx="1084.1" cy="745.3" r="7.9"/><circle cx="1073.3" cy="728.4" r="7.9"/><circle cx="1065.8" cy="710.0" r="7.9"/><circle cx="1061.6" cy="690.6" r="7.9"/><circle cx="1061.0" cy="670.8" r="7.9"/><circle cx="1063.8" cy="651.1" r="7.9"/><circle cx="1070.2" cy="632.3" r="7.9"/><circle cx="1079.7" cy="614.8" r="7.9"/><circle cx="1092.3" cy="599.1" r="7.9"/><circle cx="1107.4" cy="585.8" r="7.9"/><circle cx="1124.7" cy="575.2" r="7.9"/><circle cx="1143.6" cy="567.7" r="7.9"/><circle cx="1163.5" cy="563.4" r="7.9"/><circle cx="1183.9" cy="562.5" r="7.9"/><circle cx="1204.2" cy="565.0" r="7.9"/><circle cx="1223.7" cy="570.9" r="7.9"/><circle cx="1255.0" cy="642.5" r="7.9"/><circle cx="1260.0" cy="655.7" r="7.9"/><circle cx="1262.6" cy="669.4" r="7.9"/><circle cx="1262.7" cy="683.4" r="7.9"/><circle cx="1260.3" cy="697.3" r="7.9"/><circle cx="1255.5" cy="710.5" r="7.9"/><circle cx="1248.4" cy="722.7" r="7.9"/><circle cx="1239.2" cy="733.5" r="7.9"/><circle cx="1228.2" cy="742.7" r="7.9"/><circle cx="1215.7" cy="749.9" r="7.9"/><circle cx="1202.2" cy="754.9" r="7.9"/><circle cx="1187.9" cy="757.5" r="7.9"/><circle cx="1173.4" cy="757.8" r="7.9"/><circle cx="1159.0" cy="755.7" r="7.9"/><circle cx="1145.3" cy="751.2" r="7.9"/><circle cx="1132.5" cy="744.5" r="7.9"/><circle cx="1121.2" cy="735.7" r="7.9"/><circle cx="1111.5" cy="725.2" r="7.9"/><circle cx="1103.9" cy="713.3" r="7.9"/><circle cx="1098.6" cy="700.3" r="7.9"/><circle cx="1095.6" cy="686.6" r="7.9"/><circle cx="1095.1" cy="672.6" r="7.9"/><circle cx="1097.2" cy="658.7" r="7.9"/><circle cx="1101.7" cy="645.4" r="7.9"/><circle cx="1108.5" cy="633.0" r="7.9"/><circle cx="1117.4" cy="622.0" r="7.9"/><circle cx="1128.1" cy="612.5" r="7.9"/><circle cx="1140.4" cy="605.1" r="7.9"/><circle cx="1153.8" cy="599.7" r="7.9"/><circle cx="1168.0" cy="596.7" r="7.9"/><circle cx="1182.5" cy="596.1" r="7.9"/><circle cx="1196.9" cy="597.9" r="7.9"/><circle cx="1210.8" cy="602.0" r="7.9"/></g>
<polygon points="1158.5,641.2 1144.5,655.2 1158.5,669.2 1172.5,655.2" fill="#ee2a60" stroke="#e3184c" stroke-width="0.9"/><polygon points="1158.5,641.2 1144.5,655.2 1158.5,655.2" fill="#ff5488"/><polygon points="1158.5,641.2 1158.5,655.2 1172.5,655.2" fill="#fc5084"/><polygon points="1144.5,655.2 1158.5,669.2 1158.5,655.2" fill="#de2458"/><polygon points="1158.5,655.2 1158.5,669.2 1172.5,655.2" fill="#f02e63"/>
<polygon points="1216,663.5 1202,677.5 1216,691.5 1230,677.5" fill="#ee2a60" stroke="#e3184c" stroke-width="0.9"/><polygon points="1216.0,663.5 1202.0,677.5 1216.0,677.5" fill="#ff5488"/><polygon points="1216.0,663.5 1216.0,677.5 1230.0,677.5" fill="#fc5084"/><polygon points="1202.0,677.5 1216.0,691.5 1216.0,677.5" fill="#de2458"/><polygon points="1216.0,677.5 1216.0,691.5 1230.0,677.5" fill="#f02e63"/>
<polygon points="1166.7,693.8 1152.7,707.8 1166.7,721.8 1180.7,707.8" fill="#ee2a60" stroke="#e3184c" stroke-width="0.9"/><polygon points="1166.7,693.8 1152.7,707.8 1166.7,707.8" fill="#ff5488"/><polygon points="1166.7,693.8 1166.7,707.8 1180.7,707.8" fill="#fc5084"/><polygon points="1152.7,707.8 1166.7,721.8 1166.7,707.8" fill="#de2458"/><polygon points="1166.7,707.8 1166.7,721.8 1180.7,707.8" fill="#f02e63"/>
<polygon points="1285.1,483.5 1271.1,497.5 1285.1,511.5 1299.1,497.5" fill="#ee2a60" stroke="#e3184c" stroke-width="0.9"/><polygon points="1285.1,483.5 1271.1,497.5 1285.1,497.5" fill="#ff5488"/><polygon points="1285.1,483.5 1285.1,497.5 1299.1,497.5" fill="#fc5084"/><polygon points="1271.1,497.5 1285.1,511.5 1285.1,497.5" fill="#de2458"/><polygon points="1285.1,497.5 1285.1,511.5 1299.1,497.5" fill="#f02e63"/>
<polygon points="1326.3,497.8 1312.3,511.8 1326.3,525.8 1340.3,511.8" fill="#ee2a60" stroke="#e3184c" stroke-width="0.9"/><polygon points="1326.3,497.8 1312.3,511.8 1326.3,511.8" fill="#ff5488"/><polygon points="1326.3,497.8 1326.3,511.8 1340.3,511.8" fill="#fc5084"/><polygon points="1312.3,511.8 1326.3,525.8 1326.3,511.8" fill="#de2458"/><polygon points="1326.3,511.8 1326.3,525.8 1340.3,511.8" fill="#f02e63"/>
<polygon points="1259.6,512.4 1245.6,526.4 1259.6,540.4 1273.6,526.4" fill="#ee2a60" stroke="#e3184c" stroke-width="0.9"/><polygon points="1259.6,512.4 1245.6,526.4 1259.6,526.4" fill="#ff5488"/><polygon points="1259.6,512.4 1259.6,526.4 1273.6,526.4" fill="#fc5084"/><polygon points="1245.6,526.4 1259.6,540.4 1259.6,526.4" fill="#de2458"/><polygon points="1259.6,526.4 1259.6,540.4 1273.6,526.4" fill="#f02e63"/>
<polygon points="1293.4,526.8 1279.4,540.8 1293.4,554.8 1307.4,540.8" fill="#ee2a60" stroke="#e3184c" stroke-width="0.9"/><polygon points="1293.4,526.8 1279.4,540.8 1293.4,540.8" fill="#ff5488"/><polygon points="1293.4,526.8 1293.4,540.8 1307.4,540.8" fill="#fc5084"/><polygon points="1279.4,540.8 1293.4,554.8 1293.4,540.8" fill="#de2458"/><polygon points="1293.4,540.8 1293.4,554.8 1307.4,540.8" fill="#f02e63"/>
<polygon points="1347.3,534.6 1333.3,548.6 1347.3,562.6 1361.3,548.6" fill="#ee2a60" stroke="#e3184c" stroke-width="0.9"/><polygon points="1347.3,534.6 1333.3,548.6 1347.3,548.6" fill="#ff5488"/><polygon points="1347.3,534.6 1347.3,548.6 1361.3,548.6" fill="#fc5084"/><polygon points="1333.3,548.6 1347.3,562.6 1347.3,548.6" fill="#de2458"/><polygon points="1347.3,548.6 1347.3,562.6 1361.3,548.6" fill="#f02e63"/>
<polygon points="1316.6,563.3 1302.6,577.3 1316.6,591.3 1330.6,577.3" fill="#ee2a60" stroke="#e3184c" stroke-width="0.9"/><polygon points="1316.6,563.3 1302.6,577.3 1316.6,577.3" fill="#ff5488"/><polygon points="1316.6,563.3 1316.6,577.3 1330.6,577.3" fill="#fc5084"/><polygon points="1302.6,577.3 1316.6,591.3 1316.6,577.3" fill="#de2458"/><polygon points="1316.6,577.3 1316.6,591.3 1330.6,577.3" fill="#f02e63"/>
<path d="M 1245.5 568.1 L 1238 569.6 Q 1231.5 571.5 1235 577 L 1238.6 582 Q 1241 586.5 1235.5 587.3 L 1227.5 588.6 Q 1221.5 590 1225 594.5 L 1229.5 598.8 Q 1232.5 602.5 1227.5 603.6 L 1221 605.3 Q 1215.5 607.5 1219 612.5 L 1224.1 617.8" fill="none" stroke="#ff1418" stroke-width="6.4" stroke-linejoin="round"/>
<path d="M 1243.9 638.6 L 1243.9 630 Q 1244 624.5 1250 625.5 L 1256 627.5 Q 1261.5 630 1261.5 625 L 1261.5 619 Q 1261.5 614 1267 615.5 L 1274 619.5 Q 1278.3 622 1278.3 617 L 1278.3 610 Q 1278.5 605 1284 607 L 1292 610.9" fill="none" stroke="#ff1418" stroke-width="6" stroke-linejoin="round"/>
<line x1="1223" y1="637.5" x2="1275.61" y2="570.33" stroke="#000" stroke-width="3.5"/><polyline points="1274.73,583.62 1276.84,568.76 1262.92,574.37" fill="none" stroke="#000" stroke-width="3.5" stroke-linecap="round" stroke-linejoin="miter" stroke-miterlimit="10"/>
</svg></body></html>
